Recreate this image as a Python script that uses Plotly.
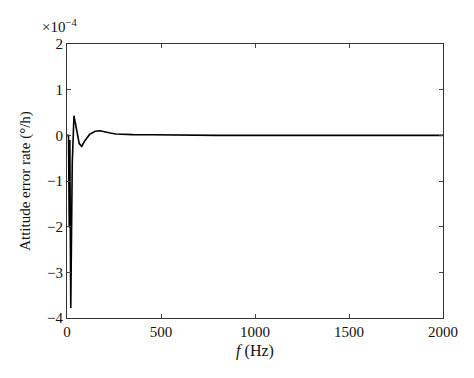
import plotly.graph_objects as go

freq = [0, 8, 12, 15, 20, 28, 37, 50, 65, 78, 95, 120, 150, 175, 200, 230, 260, 290, 350, 450, 515, 522, 800, 1200, 1600, 2000]
rate = [0.0, 0.0, -2.02, -0.1, -3.78, -0.6, 0.43, 0.15, -0.18, -0.24, -0.12, 0.02, 0.09, 0.1, 0.07, 0.05, 0.03, 0.02, 0.015, 0.012, 0.01, 0.0, 0.0, 0.0, 0.0, 0.0]

x_ticks = [0, 500, 1000, 1500, 2000]
y_ticks = [-4, -3, -2, -1, 0, 1, 2]
y_ticktext = ["\u22124", "\u22123", "\u22122", "\u22121", "0", "1", "2"]

font = "Liberation Serif"

fig = go.Figure()
fig.add_trace(go.Scatter(x=freq, y=rate, mode="lines",
                         line=dict(color="black", width=1.6), showlegend=False))

# page body has an 8px default margin, so the figure is sized to fit inside it
fig.update_layout(
    width=466, height=370,
    margin=dict(l=59, r=31, t=36, b=60),
    paper_bgcolor="white", plot_bgcolor="white",
    font=dict(family=font, size=15, color="#111"),
)
fig.update_xaxes(
    range=[0, 2000], tickvals=x_ticks, ticks="inside", ticklen=4,
    showline=True, linecolor="#333", linewidth=1, mirror="ticks",
    showgrid=False, zeroline=False,
    title=dict(text="<i>f</i> (Hz)", standoff=5, font=dict(size=16)),
)
fig.update_yaxes(
    range=[-4, 2], tickvals=y_ticks, ticktext=y_ticktext, ticks="inside", ticklen=4,
    showline=True, linecolor="#333", linewidth=1, mirror="ticks",
    showgrid=False, zeroline=False,
    title=dict(text="Attitude error rate (°/h)", standoff=12, font=dict(size=15)),
)
fig.add_annotation(text="\u00d710<sup>\u22124</sup>", xref="paper", yref="paper",
                   x=-0.02, y=1.0, xanchor="center", yanchor="bottom", yshift=7,
                   showarrow=False, font=dict(family=font, size=15, color="#111"))

fig.write_html("out.html")
